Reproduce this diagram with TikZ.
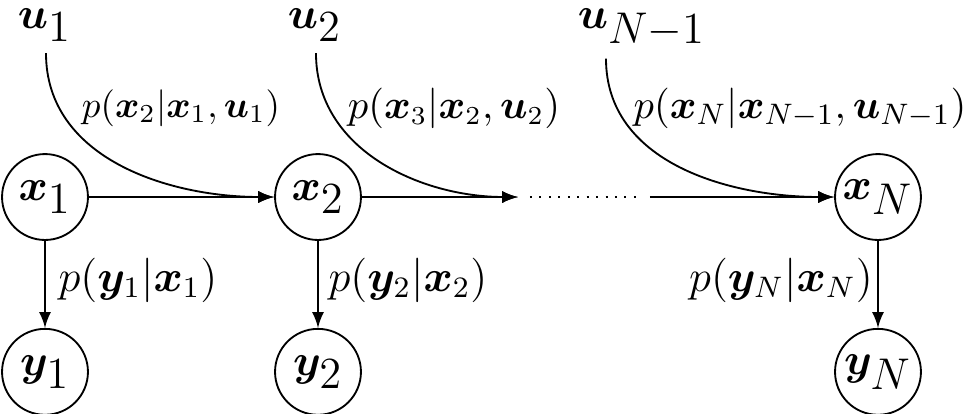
\documentclass[tikz,border=0pt]{standalone}
\usepackage{amsmath}
\usepackage{bm}
\usetikzlibrary{arrows, positioning}
\tikzset{
    state/.style = {
        circle, draw, line width=0.5pt,
        minimum size=23.2pt, inner sep=0pt,
        font=\large
    },
    ctrl/.style = {
        inner xsep=3pt, inner ysep=0pt, font=\large,
        anchor=base west
    },
    prob/.style = {
        inner sep=0pt,
        font=\fontsize{#1}{#1}\selectfont
    },
    prob/.default = 10,
    arrow/.style = {
        -latex, line width=0.5pt
    }
}
\begin{document}
\begin{tikzpicture}[x=0.27pt, y=-0.27pt, node distance=23.5pt]
\useasboundingbox (0,0) rectangle (970,413);

\node (x1) [state] at (45,197) {$\bm{x}_{\textstyle 1}$};
\node (x2) [state] at (318,197) {$\bm{x}_{\textstyle 2}$};
\node (xN) [state] at (878,197) {$\bm{x}_{\textstyle N}$};
\node (y1) [state, below=of x1] {$\bm{y}_{\textstyle 1}$};
\node (y2) [state, below=of x2] {$\bm{y}_{\textstyle 2}$};
\node (yN) [state, below=of xN] {$\bm{y}_{\textstyle N}$};

\node (u1) [ctrl] at (6,28) {$\bm{u}_{\textstyle 1}$};
\node (u2) [ctrl] at (276,28) {$\bm{u}_{\textstyle 2}$};
\node (uN) [ctrl] at (566,28) {$\bm{u}_{\textstyle N{-}1}$};

\coordinate (tip2) at (518,197);
\coordinate (dotL) at (530,197);
\coordinate (dotR) at (643,197);
\coordinate (solN) at (650,197);

\node (p12) [prob=10.3] at (181,108) {$p(\bm{x}_2|\bm{x}_1,\bm{u}_1)$};
\node (p23) [prob=10.7] at (454,108) {$p(\bm{x}_3|\bm{x}_2,\bm{u}_2)$};
\node (pNN) [prob=11] at (800,108) {$p(\bm{x}_N|\bm{x}_{N-1},\bm{u}_{N-1})$};
\node (o1) [prob=11.5] at (138,280) {$p(\bm{y}_1|\bm{x}_1)$};
\node (o2) [prob=11.5] at (408,280) {$p(\bm{y}_2|\bm{x}_2)$};
\node (oN) [prob=11.5] at (781,280) {$p(\bm{y}_N|\bm{x}_N)$};

% transitions
\draw [arrow] (x1) -- (x2);
\draw [arrow] (x2) -- (tip2);
\draw [line width=0.55pt, dash pattern=on 0.55pt off 2pt] (dotL) -- (dotR);
\draw [arrow] (solN) -- (xN);

% controls
\draw [arrow] ([xshift=10.8pt, yshift=-3pt]u1.south west) to[out=-90, in=180] (x2.west);
\draw [arrow] ([xshift=10.8pt, yshift=-3pt]u2.south west) to[out=-90, in=180] (tip2);
\draw [arrow] ([xshift=10.8pt, yshift=-3pt]uN.south west) to[out=-90, in=180] (xN.west);

% observations
\draw [arrow] (x1) -- (y1);
\draw [arrow] (x2) -- (y2);
\draw [arrow] (xN) -- (yN);

\end{tikzpicture}
\end{document}
